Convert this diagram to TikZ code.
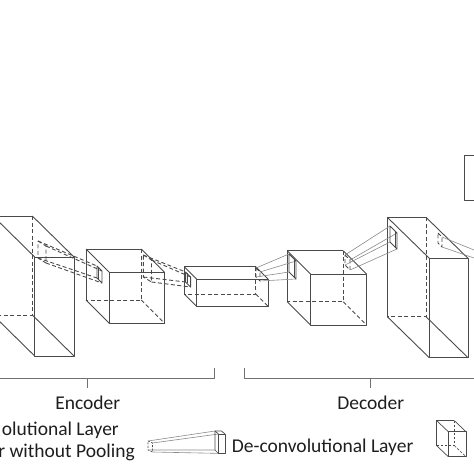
\documentclass[tikz,border=0pt]{standalone}
\usepackage{fontspec}
\setmainfont{Carlito}
\definecolor{edgec}{HTML}{4A4A4A}
\definecolor{linkc}{HTML}{8A8A8A}
\definecolor{brkc}{HTML}{707070}
\definecolor{txtc}{HTML}{1E1E1E}
\tikzset{
  edge/.style={draw=edgec, line width=0.9pt},
  hid/.style={draw=edgec, line width=0.9pt, dash pattern=on 4pt off 2.5pt},
  link/.style={draw=linkc, line width=0.6pt},
  brk/.style={draw=brkc, line width=1.1pt},
  lbl/.style={text=txtc, font=\fontsize{19.5}{23}\selectfont, inner sep=0pt},
}
\newcommand\cnnbox[7]{%
  \draw[edge] (#1,#2+#4) -- (#1,#2) -- (#1+#3,#2);
  \draw[hid] (#1+#3,#2) -- (#1+#3,#2+#4) -- (#1,#2+#4);
  \draw[edge] (#1+#5,#2+#6) rectangle (#1+#3+#5,#2+#4+#6);
  \draw[edge] (#1,#2) -- (#1+#5,#2+#6);
  \draw[edge] (#1+#3,#2) -- (#1+#3+#5,#2+#6);
  \draw[edge] (#1,#2+#4) -- (#1+#5,#2+#4+#6);
  \draw[#7] (#1+#3,#2+#4) -- (#1+#3+#5,#2+#4+#6);
}
\begin{document}
\begin{tikzpicture}[x=1pt,y=-1pt,line join=round]
\useasboundingbox (0,0) rectangle (474,474);
\clip (0,0) rectangle (474,474);

% boxes
\cnnbox{-7}{216}{39.3}{99}{41.7}{41}{edge}
\cnnbox{86}{249}{55.3}{51}{23.5}{23.5}{hid}
\cnnbox{184.3}{266.7}{71.4}{27.3}{12.3}{12.3}{hid}
\cnnbox{287.3}{250.7}{56}{51}{23.3}{23.3}{hid}
\cnnbox{387.3}{217.3}{38.7}{99.4}{42}{41}{edge}

% encoder link 1
\coordinate (s1a) at (38,241); \coordinate (s1b) at (46,246);
\coordinate (s1c) at (46,263); \coordinate (s1d) at (38,258);
\coordinate (t1a) at (97,266); \coordinate (t1b) at (102,271);
\coordinate (t1c) at (102,283); \coordinate (t1d) at (97,278);
\draw[hid] (s1a) -- (s1b) -- (s1c) -- (s1d) -- cycle;
\draw[hid] (s1a) -- (t1a) (s1b) -- (t1b) (s1c) -- (t1c) (s1d) -- (t1d);
\draw[edge] (t1a) -- (t1b) -- (t1c) -- (t1d) -- cycle;
\draw[edge,line width=0.6pt] (98.6,267.6) -- (98.6,279.6);

% encoder link 2
\coordinate (s2a) at (143.3,255); \coordinate (s2b) at (151.5,260);
\coordinate (s2c) at (151.5,282); \coordinate (s2d) at (143.3,277);
\coordinate (t2a) at (185.6,272); \coordinate (t2b) at (190.6,277);
\coordinate (t2c) at (190.6,287); \coordinate (t2d) at (185.6,282);
\draw[hid] (s2a) -- (s2b) -- (s2c) -- (s2d) -- cycle;
\draw[hid] (s2a) -- (t2a) (s2b) -- (t2b) (s2c) -- (t2c) (s2d) -- (t2d);
\draw[edge] (t2a) -- (t2b) -- (t2c) -- (t2d) -- cycle;
\draw[edge,line width=0.6pt] (187,273.4) -- (187,283.4);

% decoder link 1
\coordinate (s3a) at (256,268); \coordinate (s3b) at (260,272);
\coordinate (s3c) at (260,281); \coordinate (s3d) at (256,277);
\coordinate (t3a) at (289,254); \coordinate (t3b) at (296,261);
\coordinate (t3c) at (296,279); \coordinate (t3d) at (289,272);
\draw[hid] (s3a) -- (s3b) -- (s3c) -- (s3d) -- cycle;
\draw[link] (s3a) -- (t3a) (s3b) -- (t3b) (s3c) -- (t3c) (s3d) -- (t3d);
\draw[edge] (t3a) -- (t3b) -- (t3c) -- (t3d) -- cycle;
\draw[edge,line width=0.6pt] (294,259) -- (294,277);

% decoder link 2
\coordinate (s4a) at (345,255); \coordinate (s4b) at (350,260);
\coordinate (s4c) at (350,270); \coordinate (s4d) at (345,265);
\coordinate (t4a) at (390,226); \coordinate (t4b) at (397,233);
\coordinate (t4c) at (397,249); \coordinate (t4d) at (390,242);
\draw[hid] (s4a) -- (s4b) -- (s4c) -- (s4d) -- cycle;
\draw[link] (s4a) -- (t4a) (s4b) -- (t4b) (s4c) -- (t4c) (s4d) -- (t4d);
\draw[edge] (t4a) -- (t4b) -- (t4c) -- (t4d) -- cycle;
\draw[edge,line width=0.6pt] (395,231) -- (395,247);

% decoder link 3 (leaving the picture)
\coordinate (s5a) at (438,233); \coordinate (s5b) at (442,237);
\coordinate (s5c) at (442,247); \coordinate (s5d) at (438,243);
\coordinate (t5b) at (490,256.5); \coordinate (t5c) at (490,263.5);
\draw[hid] (s5a) -- (s5b) -- (s5c) -- (s5d) -- cycle;
\draw[link] (s5b) -- (t5b) (s5c) -- (t5c);

% top right rectangle
\draw[edge] (464.5,155) rectangle (490,200);

% brackets
\draw[brk] (-2,378.3) -- (214.3,378.3) -- (214.3,368.3);
\draw[brk] (87.7,378.3) -- (87.7,388.3);
\draw[brk] (244.3,368.3) -- (244.3,378.3) -- (480,378.3);
\draw[brk] (370.7,378.3) -- (370.7,388.3);

\node[lbl,anchor=base] (enc) at (87.7,409.3) {Encoder};
\node[lbl,anchor=base] (dec) at (370.7,409.3) {Decoder};

% legend
\node[lbl,anchor=base east] (lg1) at (119,435) {olutional Layer};
\node[lbl,anchor=base east] (lg2) at (135,457.3) {r without Pooling};

\coordinate (la) at (148,441); \coordinate (lb) at (152.5,443);
\coordinate (lc) at (152.5,452); \coordinate (ld) at (148,450);
\coordinate (ba) at (215,431); \coordinate (bb) at (218.5,434);
\coordinate (bc) at (225,453.5); \coordinate (bd) at (215,450);
\draw[hid,line width=0.6pt,dash pattern=on 2pt off 1.5pt] (la) -- (lb) -- (lc) -- (ld) -- cycle;
\draw[link] (la) -- (ba) (lb) -- (bb) (lc) -- (bc) (ld) -- (bd);
\draw[edge,line width=0.7pt] (218.5,434) rectangle (225,453.5);
\draw[edge,line width=0.7pt] (215,450) -- (215,431) -- (221.5,431) -- (225,434);
\draw[edge,line width=0.7pt] (215,431) -- (218.5,434);
\draw[edge,line width=0.7pt] (215,450) -- (218.5,453.5);
\node[lbl,anchor=base west] (lg3) at (231.7,452.7) {De-convolutional Layer};

\begin{scope}[edge/.append style={line width=0.7pt},hid/.append style={line width=0.6pt,dash pattern=on 2.5pt off 1.5pt}]
\cnnbox{436.7}{420.7}{17.7}{25}{11.6}{11}{hid}
\end{scope}
\end{tikzpicture}
\end{document}
